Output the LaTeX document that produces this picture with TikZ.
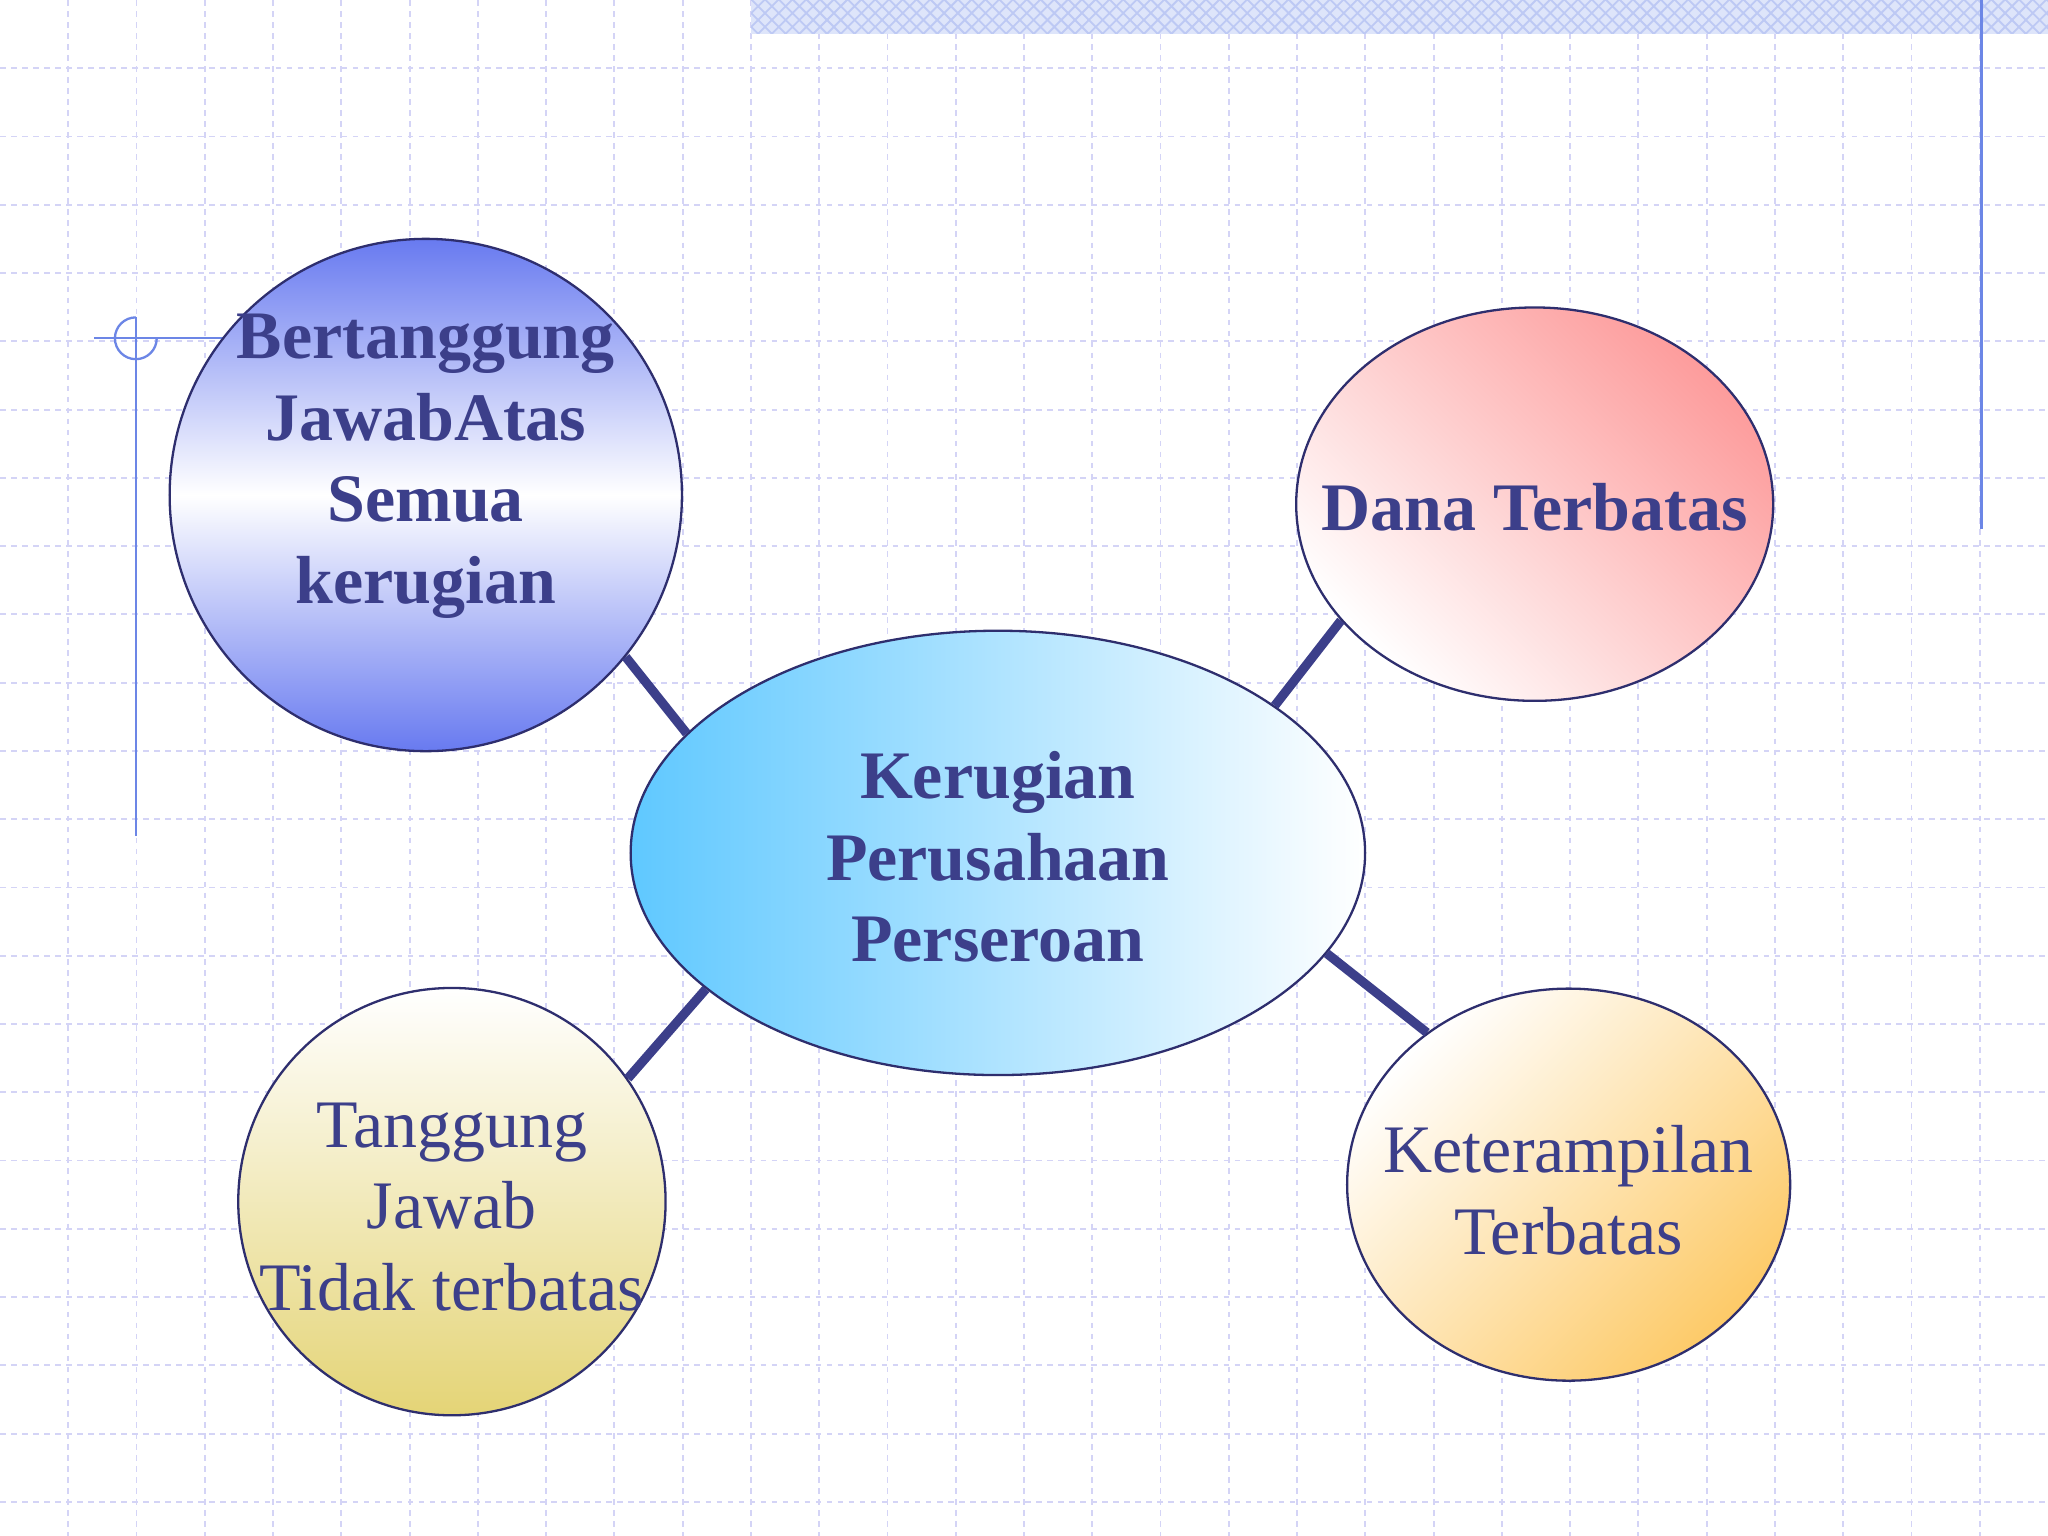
\documentclass[tikz,border=0pt]{standalone}
\usepackage{fontspec}
\setmainfont{Liberation Serif}
\usetikzlibrary{shapes.geometric,patterns}
\definecolor{ink}{RGB}{60,63,138}
\definecolor{rim}{RGB}{46,46,110}
\definecolor{gridc}{RGB}{212,212,246}
\definecolor{deco}{RGB}{108,134,230}
\definecolor{band}{RGB}{222,229,250}
\definecolor{periwinkle}{RGB}{104,122,240}
\definecolor{salmon}{RGB}{253,156,156}
\definecolor{sky}{RGB}{95,200,255}
\definecolor{khaki}{RGB}{228,212,118}
\definecolor{apricot}{RGB}{253,202,104}
\begin{document}
\begin{tikzpicture}[x=0.01cm,y=-0.01cm,
  gridline/.style={gridc,line width=0.4pt,dash pattern=on 1.2pt off 1.2pt},
  deco/.style={draw=deco,line width=0.5pt},
  blob/.style={draw=rim,line width=0.5pt,inner sep=0pt},
  lbl/.style={inner sep=0pt,align=center,text=ink,font=\fontsize{14.8}{17.8}\selectfont},
  heavy/.style={lbl,font=\fontsize{14.8}{17.8}\selectfont\bfseries},
  link/.style={draw=ink,line width=2pt}]
\useasboundingbox (0,0) rectangle (1568,1176);
\fill[white] (0,0) rectangle (1568,1176);
\foreach \i in {1,...,29} \draw[gridline] (\i*52.267,0)--(\i*52.267,1176);
\foreach \j in {1,...,22} \draw[gridline] (0,\j*52.267)--(1568,\j*52.267);
\fill[band] (575,0) rectangle (1568,26);
\fill[pattern=crosshatch,pattern color=deco!45] (575,0) rectangle (1568,26);
\draw[deco] (1517,0)--(1517,405);
\draw[deco] (104,243)--(104,640);
\draw[deco] (72,259)--(200,259);
\draw[deco] (104,243) arc(270:0:16);

\node[blob,circle,minimum size=39.2mm,top color=periwinkle,bottom color=periwinkle,middle color=white] (tl) at (326,379) {};
\node[blob,ellipse,minimum width=36.5mm,minimum height=30.1mm,top color=salmon,bottom color=white,shading angle=-45] (tr) at (1175,386) {};
\node[blob,ellipse,minimum width=56.2mm,minimum height=34mm,left color=sky,right color=white] (ctr) at (764,653) {};
\node[blob,circle,minimum size=32.7mm,top color=white,bottom color=khaki] (bl) at (346,920) {};
\node[blob,ellipse,minimum width=33.9mm,minimum height=30mm,top color=white,bottom color=apricot,shading angle=45] (br) at (1201,907) {};

\node[heavy] (tltext) at ([yshift=2.2mm]tl.center) {Bertanggung\\JawabAtas\\Semua\\kerugian};
\node[heavy] (trtext) at ([yshift=-0.2mm]tr.center) {Dana Terbatas};
\node[heavy] (ctrtext) at ([yshift=-0.3mm]ctr.center) {Kerugian\\Perusahaan\\Perseroan};
\node[lbl] (bltext) at ([yshift=-0.4mm]bl.center) {Tanggung\\Jawab\\Tidak terbatas};
\node[lbl] (brtext) at ([yshift=-0.4mm]br.center) {Keterampilan\\Terbatas};

\draw[link] (tl.-39)--(ctr.159);
\draw[link] (tr.-149)--(ctr.28.5);
\draw[link] (ctr.205)--(bl.35);
\draw[link] (ctr.-17)--(br.133);
\end{tikzpicture}
\end{document}
